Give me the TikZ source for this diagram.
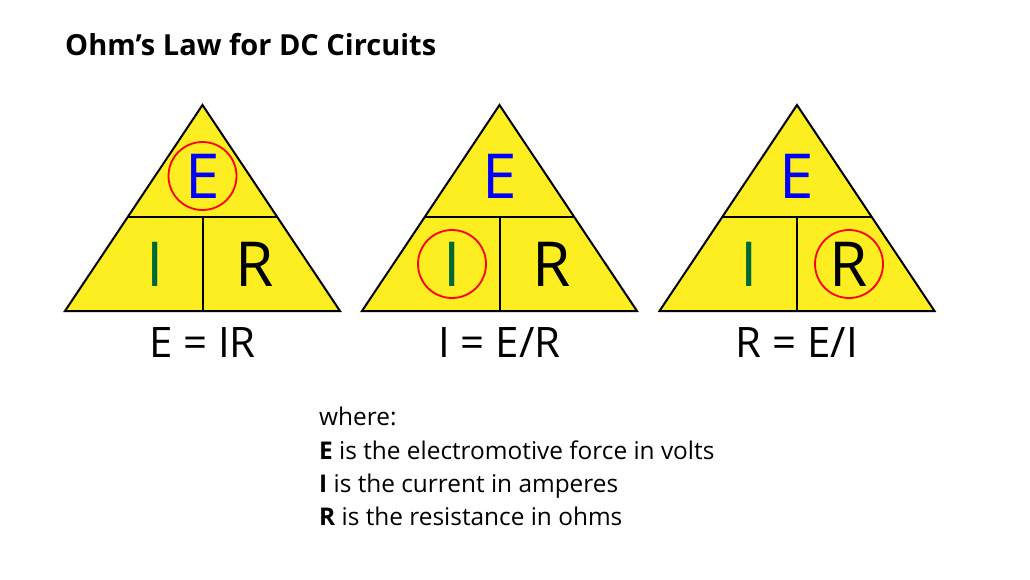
\documentclass[tikz,border=0pt]{standalone}
\usepackage{fontspec}
\setmainfont{Open Sans}
\usetikzlibrary{positioning}
\definecolor{ohmyellow}{HTML}{FCEE21}
\definecolor{ohmblue}{HTML}{0000FF}
\definecolor{ohmgreen}{HTML}{006837}
\definecolor{ohmred}{HTML}{FF0000}
\tikzset{
  tri/.style={fill=ohmyellow, draw=black, line width=2pt, line join=miter},
  divider/.style={draw=black, line width=2pt},
  letter/.style={font=\fontsize{62}{62}\selectfont, inner sep=0pt},
  ring/.style={circle, draw=ohmred, line width=1.8pt, minimum size=68pt, inner sep=0pt},
  formula/.style={font=\fontsize{42}{42}\selectfont, anchor=base},
  legend/.style={font=\fontsize{24.4}{24.4}\selectfont, anchor=base west, inner sep=0pt},
}

\begin{document}
\begin{tikzpicture}[x=1pt, y=-1pt]
    \useasboundingbox (0,0) rectangle (1030,579);

    \node[anchor=base west, inner sep=0pt, font=\bfseries\fontsize{29}{29}\selectfont] (title) at (65,55) {Ohm’s Law for DC Circuits};

    % triangle 1: E = IR
    \draw[tri] (202.5,105) -- (340,311) -- (65,311) -- cycle;
    \draw[divider] (128,216.7) -- (277,216.7);
    \draw[divider] (202.5,216.7) -- (202.5,311);
    \node[letter, text=ohmblue] (e1) at (202.5,176) {E};
    \node[letter, text=ohmgreen] (i1) at (155,264) {I};
    \node[letter] (r1) at (255,264) {R};
    \node[ring] (c1) at (e1) {};
    \node[formula] (f1) at (202.5,357) {E = IR};

    % triangle 2: I = E/R
    \draw[tri] (499.5,105) -- (637,311) -- (362,311) -- cycle;
    \draw[divider] (425,216.7) -- (574,216.7);
    \draw[divider] (499.5,216.7) -- (499.5,311);
    \node[letter, text=ohmblue] (e2) at (499.5,176) {E};
    \node[letter, text=ohmgreen] (i2) at (452,264) {I};
    \node[letter] (r2) at (552,264) {R};
    \node[ring] (c2) at (i2) {};
    \node[formula] (f2) at (499.5,357) {I = E/R};

    % triangle 3: R = E/I
    \draw[tri] (797,105) -- (934.5,311) -- (659.5,311) -- cycle;
    \draw[divider] (722.5,216.7) -- (871.5,216.7);
    \draw[divider] (797,216.7) -- (797,311);
    \node[letter, text=ohmblue] (e3) at (797,176) {E};
    \node[letter, text=ohmgreen] (i3) at (749,264) {I};
    \node[letter] (r3) at (849,264) {R};
    \node[ring] (c3) at (r3) {};
    \node[formula] (f3) at (797,357) {R = E/I};

    % legend
    \node[legend] (where) at (319,425) {where:};
    \node[legend] (defe) at (319,459) {\textbf{E} is the electromotive force in volts};
    \node[legend] (defi) at (319,492) {\textbf{I} is the current in amperes};
    \node[legend] (defr) at (319,525) {\textbf{R} is the resistance in ohms};
\end{tikzpicture}
\end{document}
